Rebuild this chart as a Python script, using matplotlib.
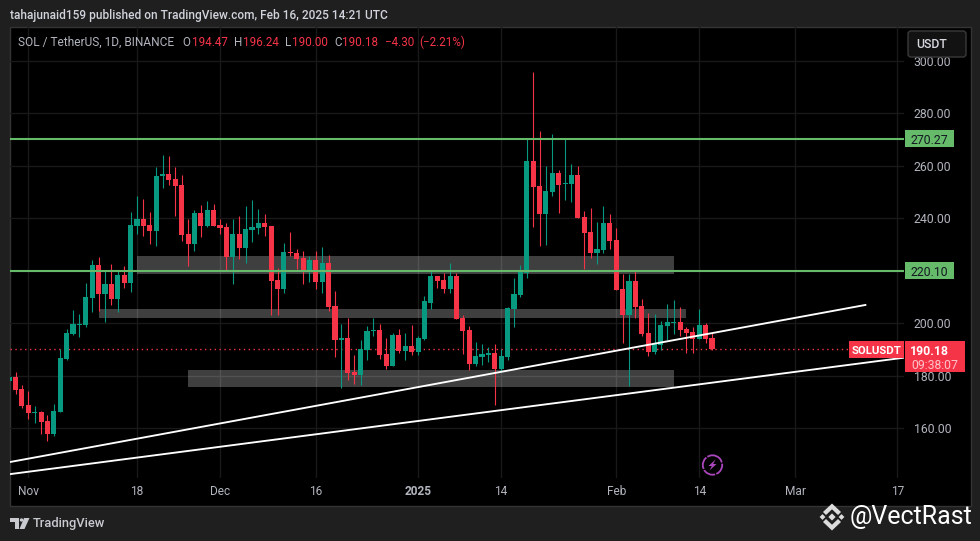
import pandas as pd
import matplotlib
matplotlib.use('Agg')
import matplotlib.pyplot as plt
import matplotlib.dates as mdates
from matplotlib.patches import Rectangle, FancyBboxPatch, Circle, Polygon

plt.rcParams['font.family'] = ['Roboto', 'DejaVu Sans']

# daily candles, first one is Oct 29 2024 (cut by the left edge)
opens = [178.1, 179.6, 175.0, 168.9, 165.8, 166.2, 162.8, 157.8, 166.2, 186.4,
         195.9, 199.4, 199.4, 209.6, 222.2, 211.2, 215.0, 209.3, 218.4, 215.4,
         237.1, 239.7, 237.5, 235.2, 256.1, 256.9, 255.0, 252.7, 234.0, 230.2,
         242.0, 237.1, 243.2, 237.5, 236.7, 225.3, 234.0, 228.7, 235.5, 236.3,
         238.2, 237.1, 216.5, 213.1, 227.2, 226.8, 224.9, 219.5, 224.1, 215.7,
         223.0, 206.6, 193.6, 194.4, 181.5, 180.3, 189.8, 197.1, 197.4, 188.3,
         183.7, 195.5, 189.5, 191.4, 189.1, 194.0, 207.7, 218.0, 216.5, 213.1,
         218.0, 202.0, 197.4, 184.5, 187.2, 187.9, 188.7, 182.6, 187.2, 205.5,
         210.8, 219.2, 261.8, 252.3, 241.6, 250.0, 257.3, 253.1, 253.1, 256.5,
         240.5, 234.8, 226.8, 227.9, 238.2, 231.7, 213.1, 203.2, 216.1, 206.6,
         196.3, 189.1, 191.7, 199.0, 200.1, 200.5, 197.8, 196.7, 194.0, 199.4,
         194.47]
closes = [179.6, 174.6, 168.6, 165.8, 166.2, 162.4, 157.8, 166.6, 186.8, 196.3,
          199.7, 199.7, 210.0, 222.2, 211.2, 215.0, 209.3, 218.4, 215.4, 237.5,
          239.7, 237.1, 235.2, 256.1, 256.9, 254.6, 252.3, 233.6, 230.2, 242.0,
          237.1, 243.2, 237.1, 236.3, 225.3, 234.0, 228.7, 235.9, 236.7, 238.2,
          236.7, 216.1, 213.1, 227.2, 226.8, 224.5, 219.5, 224.1, 215.7, 223.0,
          206.2, 193.6, 194.4, 181.1, 180.3, 190.2, 197.1, 197.4, 187.9, 183.7,
          195.5, 189.5, 191.4, 189.1, 194.4, 208.5, 218.0, 216.1, 213.1, 218.0,
          201.6, 197.1, 184.5, 187.5, 188.3, 188.7, 182.6, 187.5, 205.8, 211.2,
          219.5, 261.8, 251.9, 241.6, 250.4, 257.3, 252.7, 253.5, 256.5, 240.1,
          234.4, 226.8, 228.3, 238.2, 231.4, 212.7, 203.2, 216.1, 206.2, 195.9,
          189.1, 192.1, 199.4, 200.5, 200.5, 197.5, 196.3, 194.0, 199.4, 194.0,
          190.18]
highs = [180.0, 181.3, 176.5, 174.2, 168.5, 166.6, 165.1, 169.3, 190.1, 197.8,
         205.1, 203.5, 215.4, 224.1, 225.3, 220.3, 222.6, 220.3, 221.8, 242.4,
         248.5, 247.4, 242.4, 259.5, 264.1, 263.7, 259.5, 256.5, 239.7, 243.2,
         245.1, 246.6, 245.5, 239.7, 238.2, 239.7, 240.9, 244.7, 247.0, 243.5,
         241.6, 237.1, 221.1, 230.6, 234.8, 228.3, 227.5, 225.6, 227.5, 229.1,
         226.0, 212.3, 199.7, 202.0, 187.9, 193.6, 199.0, 202.0, 199.7, 194.4,
         196.3, 197.8, 196.3, 199.3, 195.2, 210.4, 219.9, 218.0, 219.2, 223.0,
         219.2, 203.2, 199.0, 192.9, 192.1, 191.0, 192.1, 190.2, 206.2, 217.3,
         222.2, 270.6, 295.7, 273.3, 259.9, 272.1, 258.4, 270.2, 260.7, 259.9,
         242.8, 243.9, 238.6, 244.7, 241.6, 236.3, 218.8, 218.8, 219.9, 209.3,
         203.9, 203.5, 200.9, 207.4, 208.9, 206.2, 198.6, 198.6, 205.5, 200.1,
         196.24]
lows = [178.0, 173.1, 167.9, 163.5, 162.0, 157.8, 155.2, 157.1, 166.2, 186.0,
        195.5, 194.8, 198.6, 204.3, 204.7, 200.5, 207.0, 204.3, 213.4, 211.9,
        234.0, 233.3, 230.2, 229.5, 251.5, 252.7, 240.9, 231.3, 221.8, 227.5,
        232.9, 236.7, 237.1, 234.0, 219.9, 215.0, 224.5, 223.0, 231.0, 234.0,
        233.3, 203.2, 203.2, 211.5, 225.6, 220.7, 215.0, 215.7, 213.1, 211.5,
        204.7, 187.2, 175.4, 178.4, 176.9, 176.5, 186.0, 195.2, 186.4, 182.6,
        183.7, 188.7, 186.0, 187.9, 187.9, 193.6, 205.4, 213.4, 211.5, 211.5,
        201.6, 188.3, 182.2, 183.7, 184.1, 185.3, 168.9, 181.8, 186.0, 198.6,
        210.0, 217.3, 236.7, 229.5, 229.8, 248.5, 242.0, 247.0, 246.2, 240.1,
        220.7, 224.9, 222.6, 226.8, 228.3, 212.7, 192.5, 176.1, 202.0, 195.2,
        187.6, 188.3, 189.8, 193.6, 195.9, 195.2, 188.7, 188.7, 194.0, 192.5,
        190.00]

price_ticks = [160, 180, 200, 220, 240, 260, 280, 300]
hidden_price_labels = [220]  # TradingView drops the one under the 220.10 tag
time_ticks = ['2024-11-01', '2024-11-18', '2024-12-01', '2024-12-16', '2025-01-01',
              '2025-01-14', '2025-02-01', '2025-02-14', '2025-03-01', '2025-03-17']
time_labels = ['Nov', '18', 'Dec', '16', '2025', '14', 'Feb', '14', 'Mar', '17']

# drawings on the chart
levels = [270.27, 220.10]
zones = [('2024-11-18', '2025-02-10', 218.7, 225.6),
         ('2024-11-12', '2025-02-12', 202.0, 205.4),
         ('2024-11-26', '2025-02-10', 175.7, 182.2)]
trend_dates = [('2024-10-29', '2025-03-12'), ('2024-10-29', '2025-03-18')]
trend_prices = [(147.1, 207.0), (142.5, 186.9)]
last_price = 190.18

GREEN = '#089981'
RED = '#f63448'
LEVEL = '#66bb6a'
GRID = '#191919'
TEXT = '#b2b5be'
LOGO = '#dcdcdc'

dates = mdates.date2num(pd.date_range('2024-10-29', periods=len(opens)))
nov1 = mdates.date2num(pd.Timestamp('2024-11-01'))

fig = plt.figure(figsize=(9.8, 5.41), dpi=100, facecolor='#1f1f1f')

# page layer, works in pixels
page = fig.add_axes([0, 0, 1, 1], zorder=0)
page.set_xlim(0, 980)
page.set_ylim(541, 0)
page.axis('off')
page.add_patch(Rectangle((10, 27), 960.5, 478.5, fc='black', ec='#343434', lw=1))
page.text(10, 15, 'tahajunaid159 published on TradingView.com, Feb 16, 2025 14:21 UTC',
          color='#d1d4dc', fontsize=8.55, va='center', fontweight='medium')
page.text(33, 523.5, 'TradingView', color='#c8cad0', fontsize=9.3, va='center', fontweight='medium')
page.text(850, 517, '@VectRast', color='white', fontsize=18, va='center')

# main chart
ax = fig.add_axes([10.3 / 980, 1 - 478 / 541, (904 - 10.3) / 980, (478 - 27) / 541],
                  zorder=1, facecolor='none')
ax.set_xlim(nov1 - 2.82, nov1 + 137.04)
ax.set_ylim(141.07, 312.9)
for s in ax.spines.values():
    s.set_visible(False)

tick_nums = mdates.date2num(pd.to_datetime(time_ticks))
ax.set_xticks(tick_nums)
ax.set_xticklabels(time_labels, color=TEXT, fontsize=8.6)
ax.set_yticks(price_ticks)
ax.set_yticklabels(['' if p in hidden_price_labels else '%.2f' % p for p in price_ticks],
                   color=TEXT, fontsize=8.8)
ax.yaxis.tick_right()
ax.tick_params(axis='both', length=0)
ax.tick_params(axis='x', pad=5)
ax.tick_params(axis='y', pad=7)
ax.get_xticklabels()[4].set_fontweight('bold')
ax.grid(True, color=GRID, lw=1)
ax.set_axisbelow(True)

for start, end, low, high in zones:
    x0, x1 = mdates.date2num(pd.Timestamp(start)), mdates.date2num(pd.Timestamp(end))
    ax.add_patch(Rectangle((x0, low), x1 - x0, high - low, fc='white', alpha=0.25, ec='none', zorder=1))

trans = ax.get_yaxis_transform()
ax.plot([0, 0.9385], [last_price, last_price], transform=trans, color=RED, lw=1,
        ls=(0, (1, 2.5)), zorder=1.5)

# candles
for d, o, h, l, c in zip(dates, opens, highs, lows, closes):
    col = GREEN if c >= o else RED
    ax.vlines(d, l, h, color=col, lw=0.8, zorder=2)
    ax.bar(d, max(abs(c - o), 0.4), bottom=min(o, c), width=0.8, color=col, lw=0, zorder=3)

for lv in levels:
    ax.axhline(lv, color=LEVEL, lw=1.5, zorder=4)
for (d0, d1), (p0, p1) in zip(trend_dates, trend_prices):
    ax.plot(pd.to_datetime([d0, d1]).map(mdates.date2num), [p0, p1], color='white', lw=1.35, zorder=5)

# labels over the price scale
for lv in levels:
    ax.add_patch(Rectangle((1.0012, lv - 3.2), 0.0548, 6.4, transform=trans, fc=LEVEL, ec='none',
                           clip_on=False, zorder=6))
    ax.text(1.0285, lv, '%.2f' % lv, transform=trans, color='#131722', fontsize=8.8,
            ha='center', va='center_baseline', zorder=7, clip_on=False)

ax.add_patch(Rectangle((0.9385, last_price - 3.4), 0.0615, 6.4, transform=trans, fc=RED, ec='none',
                       clip_on=False, zorder=6))
ax.text(0.9695, last_price - 0.2, 'SOLUSDT', transform=trans, color='white', fontsize=8.2, fontweight='bold',
        ha='center', va='center_baseline', zorder=7, clip_on=False)
ax.add_patch(Rectangle((1.0012, last_price - 8.7), 0.0671, 11.7, transform=trans, fc=RED, ec='none',
                       clip_on=False, zorder=6))
ax.text(1.0285, last_price - 0.2, '190.18', transform=trans, color='white', fontsize=8.8, fontweight='bold',
        ha='center', va='center_baseline', zorder=7, clip_on=False)
ax.text(1.0345, last_price - 5.7, '09:38:07', transform=trans, color='#fbc4c9', fontsize=8.8,
        ha='center', va='center_baseline', zorder=7, clip_on=False)

# top layer, pixels again
top = fig.add_axes([0, 0, 1, 1], zorder=2, facecolor='none')
top.set_xlim(0, 980)
top.set_ylim(541, 0)
top.axis('off')

top.add_patch(FancyBboxPatch((910, 33), 54, 22, boxstyle='round,pad=2,rounding_size=3',
                             fc='#121212', ec='#3a3a3a', lw=1))
top.text(932, 45, 'USDT', color='#d8dae0', fontsize=8.8, ha='center', va='center', fontweight='medium')

# legend row
top.text(18, 42, 'SOL / TetherUS, 1D, BINANCE', color=TEXT, fontsize=8.6, va='center')
legend_bits = [(182.5, 'O', TEXT), (192, '194.47', RED), (233.5, 'H', TEXT), (243, '196.24', RED),
               (285, 'L', TEXT), (292, '190.00', RED), (334, 'C', TEXT), (342, '190.18', RED),
               (385, '\u22124.30', RED), (419, '(\u22122.21%)', RED)]
for px, s, col in legend_bits:
    top.text(px, 42, s, color=col, fontsize=8.4, va='center')

# lightning marker
top.add_patch(Circle((712.5, 465), 9.7, fc='none', ec='#ab47bc', lw=1.3, ls=(0, (7, 0.7))))
top.add_patch(Polygon([(715.5, 459.5), (708.5, 466), (711.8, 466), (709.5, 470.5), (716.5, 464),
                       (713.2, 464)], fc='#ab47bc', ec='none'))

# TradingView logo
top.add_patch(Polygon([(10, 518), (19, 518), (19, 529), (14.5, 529), (14.5, 522), (10, 522)], fc='#c8cad0', ec='none'))
top.add_patch(Circle((21.5, 520), 1.7, fc='#c8cad0', ec='none'))
top.add_patch(Polygon([(24, 518), (29.5, 518), (24.5, 529), (19.5, 529)], fc='#c8cad0', ec='none'))

# Binance logo: center and side diamonds, upper and lower chevrons
for cx, cy, size in [(832, 517, 3.6), (822.5, 517, 2.9), (841.5, 517, 2.9)]:
    top.add_patch(Polygon([(cx - size, cy), (cx, cy - size), (cx + size, cy), (cx, cy + size)], fc=LOGO, ec='none'))
top.add_patch(Polygon([(832, 503.5), (841, 512), (838, 515), (832, 509.3), (826, 515), (823, 512)], fc=LOGO, ec='none'))
top.add_patch(Polygon([(832, 530.5), (841, 522), (838, 519), (832, 524.7), (826, 519), (823, 522)], fc=LOGO, ec='none'))

fig.savefig('out.png', dpi=100, facecolor=fig.get_facecolor())
